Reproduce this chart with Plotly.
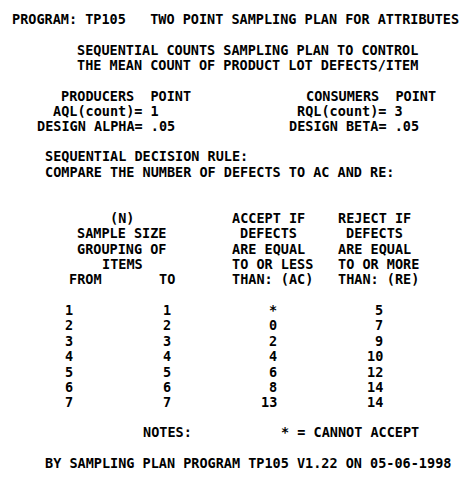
import plotly.graph_objects as go

# report text, positioned on a fixed character grid (column, pixel row)
header_lines = [
    (1, 18, "PROGRAM: TP105   TWO POINT SAMPLING PLAN FOR ATTRIBUTES"),
    (9, 49, "SEQUENTIAL COUNTS SAMPLING PLAN TO CONTROL"),
    (9, 64, "THE MEAN COUNT OF PRODUCT LOT DEFECTS/ITEM"),
    (7, 95, "PRODUCERS  POINT"),
    (37, 95, "CONSUMERS  POINT"),
    (6, 110, "AQL(count)= 1"),
    (36, 110, "RQL(count)= 3"),
    (4, 125, "DESIGN ALPHA= .05"),
    (35, 125, "DESIGN BETA= .05"),
    (5, 155, "SEQUENTIAL DECISION RULE:"),
    (5, 171, "COMPARE THE NUMBER OF DEFECTS TO AC AND RE:"),
    (13, 217, "(N)"),
    (9, 232, "SAMPLE SIZE"),
    (9, 248, "GROUPING OF"),
    (12, 263, "ITEMS"),
    (8, 278, "FROM"),
    (19, 278, "TO"),
    (28, 217, "ACCEPT IF"),
    (29, 232, "DEFECTS"),
    (28, 248, "ARE EQUAL"),
    (28, 263, "TO OR LESS"),
    (28, 278, "THAN: (AC)"),
    (41, 217, "REJECT IF"),
    (42, 232, "DEFECTS"),
    (41, 248, "ARE EQUAL"),
    (41, 263, "TO OR MORE"),
    (41, 278, "THAN: (RE)"),
    (17, 431, "NOTES:"),
    (34, 431, "* = CANNOT ACCEPT"),
    (5, 462, "BY SAMPLING PLAN PROGRAM TP105 V1.22 ON 05-06-1998"),
]

size_from = [1, 2, 3, 4, 5, 6, 7]
size_to = [1, 2, 3, 4, 5, 6, 7]
accept_ac = ["*", "0", "2", "4", "6", "8", "13"]
reject_re = [5, 7, 9, 10, 12, 14, 14]

CW = 8.15   # character width, px
X0 = -6
DY = -7
ROW0, ROWH = 309, 15.4
font = dict(family="DejaVu Sans Mono", size=13.5, color="black", weight="bold")

def ann(col, y, text, anchor="left"):
    return dict(x=X0 + col * CW, y=y + DY, text=text, showarrow=False, xref="x", yref="y",
                xanchor=anchor, yanchor="middle", font=font)

anns = [ann(c, y, t.replace(" ", "&nbsp;")) for c, y, t in header_lines]
for i in range(len(size_from)):
    y = ROW0 + i * ROWH
    anns.append(ann(9, y, str(size_from[i]), "right"))
    anns.append(ann(21, y, str(size_to[i]), "right"))
    anns.append(ann(34, y, accept_ac[i], "right"))
    anns.append(ann(47, y, str(reject_re[i]), "right"))

fig = go.Figure()
fig.update_layout(
    width=474, height=481, margin=dict(l=0, r=0, t=0, b=0),
    paper_bgcolor="white", plot_bgcolor="white",
    xaxis=dict(range=[0, 474], visible=False),
    yaxis=dict(range=[481, 0], visible=False),
    annotations=anns, showlegend=False,
)
fig.write_html("out.html")
